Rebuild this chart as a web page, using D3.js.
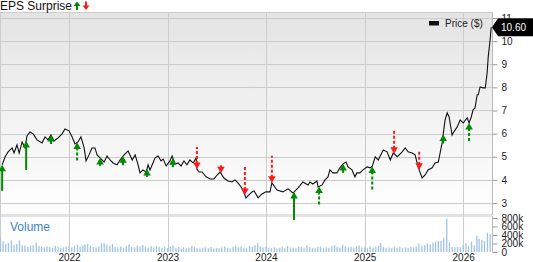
<!DOCTYPE html>
<html lang="en">
<head>
<meta charset="UTF-8">
<title>EPS Surprise</title>
<script src="https://d3js.org/d3.v7.min.js"></script>
<style>
    body { margin: 0; background: #fff; }
    svg { display: block; font-family: "Liberation Sans", Arial, sans-serif; }
</style>
</head>
<body>
<div id="chart"></div>
<script>
// price trace
const priceDates = [
    '2021-04-28','2021-05-09','2021-05-20','2021-06-04','2021-06-11','2021-06-22','2021-06-30','2021-07-11','2021-07-22','2021-07-29',
    '2021-08-09','2021-08-21','2021-09-04','2021-09-23','2021-10-04','2021-10-15','2021-10-26','2021-11-06','2021-11-21','2021-12-06',
    '2021-12-17','2022-01-01','2022-01-12','2022-01-23','2022-02-03','2022-02-14','2022-02-26','2022-03-05','2022-03-16','2022-03-27',
    '2022-04-07','2022-04-15','2022-04-26','2022-05-11','2022-05-22','2022-06-02','2022-06-13','2022-06-28','2022-07-09','2022-07-24',
    '2022-08-08','2022-08-23','2022-09-03','2022-09-14','2022-09-21','2022-10-02','2022-10-14','2022-10-21','2022-10-28','2022-11-08',
    '2022-11-16','2022-11-27','2022-12-08','2022-12-16','2022-12-27','2023-01-10','2023-01-18','2023-01-29','2023-02-09','2023-02-20',
    '2023-03-03','2023-03-14','2023-03-25','2023-04-06','2023-04-17','2023-04-20','2023-04-28','2023-05-09','2023-05-24','2023-06-08',
    '2023-06-22','2023-07-04','2023-07-15','2023-07-29','2023-08-13','2023-08-28','2023-09-08','2023-09-19','2023-10-01','2023-10-12',
    '2023-10-19','2023-10-30','2023-11-10','2023-11-18','2023-12-03','2023-12-17','2024-01-01','2024-01-16','2024-01-23','2024-02-11',
    '2024-03-04','2024-03-23','2024-04-10','2024-04-29','2024-05-17','2024-06-05','2024-06-12','2024-06-23','2024-07-08','2024-07-12',
    '2024-07-27','2024-08-07','2024-08-18','2024-08-25','2024-09-05','2024-09-20','2024-10-01','2024-10-13','2024-10-24','2024-10-31',
    '2024-11-15','2024-11-26','2024-12-03','2024-12-14','2024-12-26','2025-01-10','2025-01-21','2025-01-29','2025-02-09','2025-02-20',
    '2025-03-11','2025-03-25','2025-04-06','2025-04-17','2025-05-02','2025-05-20','2025-05-31','2025-06-11','2025-06-26','2025-07-07',
    '2025-07-18','2025-08-02','2025-08-13','2025-08-24','2025-09-08','2025-09-19','2025-10-01','2025-10-15','2025-10-26','2025-11-03',
    '2025-11-10','2025-11-21','2025-11-25','2025-12-10','2025-12-21','2026-01-01','2026-01-16','2026-01-23','2026-01-31','2026-02-07',
    '2026-02-14','2026-02-22','2026-02-26','2026-03-05','2026-03-16','2026-03-24','2026-03-31','2026-04-04','2026-04-11','2026-04-15'
];
const prices = [
    4.65, 5.00, 5.21, 5.38, 5.16, 5.51, 5.16, 5.64, 5.38, 5.90,
    6.07, 5.99, 5.73, 5.60, 5.86, 5.73, 5.94, 5.68, 5.81, 5.99,
    6.20, 6.12, 5.86, 5.55, 5.64, 5.86, 5.38, 4.82, 5.08, 5.38,
    5.38, 5.08, 4.95, 4.77, 5.03, 4.86, 4.73, 4.65, 4.86, 5.08,
    5.25, 4.86, 5.08, 4.65, 4.30, 4.43, 4.34, 4.65, 4.43, 4.73,
    4.95, 5.03, 4.82, 4.90, 4.60, 4.82, 5.03, 4.69, 4.73, 4.60,
    4.82, 4.65, 4.86, 4.73, 4.95, 4.47, 4.34, 4.34, 4.13, 4.04,
    4.04, 4.21, 4.34, 4.08, 3.95, 3.91, 4.00, 3.87, 3.69, 3.43,
    3.22, 3.35, 3.48, 3.52, 3.22, 3.39, 3.48, 3.48, 3.87, 3.56,
    3.48, 3.61, 3.43, 3.65, 3.91, 3.78, 3.91, 3.82, 3.95, 3.69,
    3.78, 4.00, 4.13, 4.43, 4.30, 4.30, 4.52, 4.69, 4.77, 4.56,
    4.43, 4.13, 4.30, 4.30, 4.43, 4.56, 4.52, 4.58, 5.00, 4.86,
    5.29, 5.21, 4.86, 5.16, 5.00, 5.21, 5.38, 5.21, 5.16, 5.08,
    4.56, 4.08, 4.21, 4.43, 4.52, 4.73, 4.77, 5.60, 6.59, 6.90,
    6.72, 5.94, 6.03, 6.29, 6.59, 6.46, 6.68, 6.46, 6.72, 7.03,
    7.11, 7.68, 7.68, 8.02, 7.98, 7.98, 8.63, 9.32, 10.06, 10.60
];

// earnings reports: surprise in %, solid or dashed shaft
const epsDates = [
    '2021-04-28','2021-07-26','2021-10-26','2022-01-31','2022-04-26','2022-07-20','2022-10-17','2023-01-21','2023-04-20','2023-07-18',
    '2023-10-15','2024-01-23','2024-04-14','2024-07-16','2024-10-13','2025-01-29','2025-04-20','2025-07-22','2025-10-19','2026-01-23'
];
const epsSurprise = [90, 105, 5, 55, 5, 5, 5, 5, -70, -3, -100, -95, 100, 60, 5, 80, -80, -55, 5, 50];
const epsSolid = [1, 1, 1, 0, 0, 1, 0, 1, 0, 0, 0, 0, 1, 0, 1, 0, 0, 0, 1, 0];

// volume in thousands, three bars a month (1st, 11th, 21st) from 2021-04-21
const volumeK = [
    330, 250, 190, 210, 275, 160, 190, 270, 165, 150, 120, 150, 160, 220, 140, 125, 110, 135, 115, 100, 140, 120, 100, 110, 130,
    140, 110, 150, 170, 130, 160, 180, 190, 150, 120, 110, 130, 210, 200, 170, 150, 190, 120, 110, 130, 100, 140, 180, 120, 110, 150, 130, 160, 120, 100, 140, 110, 130, 120, 100, 115,
    90, 130, 150, 100, 120, 80, 110, 90, 100, 140, 120, 90, 80, 100, 110, 90, 120, 80, 100, 90, 110, 130, 100, 90, 120, 150, 110, 130, 100, 90, 140, 120, 160, 210, 130, 110,
    120, 100, 90, 110, 80, 100, 120, 90, 140, 110, 100, 90, 130, 120, 100, 150, 110, 90, 100, 120, 130, 90, 110, 100, 140, 160, 120, 100, 170, 130, 110, 120, 100, 130, 150, 110,
    110, 90, 130, 100, 120, 140, 210, 120, 100, 110, 90, 130, 100, 120, 90, 110, 100, 120, 110, 130, 190, 140, 160, 200, 180, 220, 240, 260, 260, 330, 780, 230, 120, 110, 120, 110,
    170, 210, 150, 240, 150, 380, 310, 290, 260, 450, 420
];

const priceTicks = [3, 4, 5, 6, 7, 8, 9, 10, 11];
const volumeTicks = [0, 200000, 400000, 600000, 800000];
const yearTicks = ['2022-01-01', '2023-01-01', '2024-01-01', '2025-01-01', '2026-01-01'];

const parse = d3.timeParse('%Y-%m-%d');

const width = 533, height = 262;
const plotLeft = 0, plotRight = 492;
const priceTop = 12, priceBottom = 215, volTop = 216, volBottom = 252;

const x = d3.scaleTime()
    .domain([parse('2021-04-20'), parse('2026-04-18')])
    .range([plotLeft, plotRight]);
const y = d3.scaleLinear().domain([2.48, 11.26]).range([priceBottom, priceTop]);
const yVol = d3.scaleLinear().domain([0, 800000]).range([volBottom, 218]);
const shaft = d3.scaleLinear().domain([0, 100]).range([8, 28]);

const series = priceDates.map((d, i) => ({date: parse(d), price: prices[i]}));

const volumeDates = [];
for (let m = parse('2021-04-01'); volumeDates.length < volumeK.length; m = d3.timeMonth.offset(m, 1)) {
    [1, 11, 21].forEach(day => {
        const d = new Date(m.getFullYear(), m.getMonth(), day);
        if (d >= parse('2021-04-21') && volumeDates.length < volumeK.length) volumeDates.push(d);
    });
}

const bisect = d3.bisector(d => d.date).left;
function priceAt(date) {
    const i = Math.max(1, Math.min(series.length - 1, bisect(series, date)));
    const a = series[i - 1], b = series[i];
    const t = (date - a.date) / (b.date - a.date);
    return a.price + (b.price - a.price) * Math.max(0, Math.min(1, t));
}

const svg = d3.select('#chart').append('svg')
    .attr('width', width)
    .attr('height', height);

const grad = svg.append('defs').append('linearGradient')
    .attr('id', 'bg')
    .attr('x1', 0).attr('y1', 0).attr('x2', 0).attr('y2', 1);
grad.append('stop').attr('offset', '0%').attr('stop-color', '#e4e4e4');
grad.append('stop').attr('offset', '100%').attr('stop-color', '#ffffff');

svg.append('rect')
    .attr('x', plotLeft).attr('y', priceTop)
    .attr('width', plotRight - plotLeft).attr('height', priceBottom - priceTop)
    .attr('fill', 'url(#bg)');

// grid
svg.append('g')
    .selectAll('line')
    .data(priceTicks)
    .enter().append('line')
    .attr('x1', plotLeft).attr('x2', plotRight)
    .attr('y1', d => Math.round(y(d)) + 0.5).attr('y2', d => Math.round(y(d)) + 0.5)
    .attr('stroke', '#cccccc');

svg.append('rect')
    .attr('x', plotLeft).attr('y', priceBottom - 1)
    .attr('width', plotRight - plotLeft).attr('height', 3)
    .attr('fill', '#e2e2e2');

svg.append('g')
    .selectAll('line')
    .data(yearTicks)
    .enter().append('line')
    .attr('x1', d => Math.round(x(parse(d))) + 0.5).attr('x2', d => Math.round(x(parse(d))) + 0.5)
    .attr('y1', priceTop).attr('y2', volBottom)
    .attr('stroke', '#cccccc');

svg.append('line')
    .attr('x1', plotLeft).attr('x2', plotRight)
    .attr('y1', priceTop + 0.5).attr('y2', priceTop + 0.5)
    .attr('stroke', '#cccccc');
svg.append('line')
    .attr('x1', plotLeft + 0.5).attr('x2', plotLeft + 0.5)
    .attr('y1', priceTop).attr('y2', volBottom)
    .attr('stroke', '#cccccc');

// volume bars
svg.append('g')
    .selectAll('rect')
    .data(volumeK)
    .enter().append('rect')
    .attr('x', (d, i) => x(volumeDates[i]) - 0.6)
    .attr('width', 1.3)
    .attr('y', d => yVol(d * 1000))
    .attr('height', d => volBottom - yVol(d * 1000))
    .attr('fill', '#9fc2e6');

svg.append('text')
    .attr('x', 10).attr('y', 231)
    .attr('font-size', 12)
    .attr('fill', '#3b86c6')
    .text('Volume');

// price line
svg.append('path')
    .datum(series)
    .attr('fill', 'none')
    .attr('stroke', '#111')
    .attr('stroke-width', 1.1)
    .attr('d', d3.line().x(d => x(d.date)).y(d => y(d.price)));

// EPS surprise arrows
const eps = svg.append('g')
    .selectAll('g')
    .data(epsDates.map((d, i) => ({date: parse(d), s: epsSurprise[i], solid: epsSolid[i]})))
    .enter().append('g')
    .attr('transform', d => `translate(${x(d.date)},${y(priceAt(d.date))})`);

eps.append('line')
    .attr('x1', 0).attr('x2', 0)
    .attr('y1', d => d.s >= 0 ? 5 : -5)
    .attr('y2', d => d.s >= 0 ? shaft(Math.abs(d.s)) : -shaft(Math.abs(d.s)))
    .attr('stroke', d => d.s >= 0 ? '#008a00' : '#ff1a1a')
    .attr('stroke-width', 2)
    .attr('stroke-dasharray', d => d.solid ? null : '3,2');

eps.append('path')
    .attr('d', d => d.s >= 0 ? 'M0,0L3.8,6.5L-3.8,6.5Z' : 'M0,0L3.8,-6.5L-3.8,-6.5Z')
    .attr('fill', d => d.s >= 0 ? '#008a00' : '#ff1a1a');

// axes
const yAxis = svg.append('g')
    .attr('transform', `translate(${plotRight + 0.5},0)`)
    .call(d3.axisRight(y).tickValues(priceTicks).tickSize(5).tickPadding(4));
const volAxis = svg.append('g')
    .attr('transform', `translate(${plotRight + 0.5},0)`)
    .call(d3.axisRight(yVol).tickValues(volumeTicks).tickSize(5).tickPadding(4)
        .tickFormat(d => d ? d / 1000 + 'k' : '0'));
const xAxis = svg.append('g')
    .attr('transform', `translate(0,${volBottom})`)
    .call(d3.axisBottom(x).tickValues(yearTicks.map(parse)).tickSize(0).tickPadding(1.5)
        .tickFormat(d3.timeFormat('%Y')));

[yAxis, volAxis, xAxis].forEach(g => {
    g.select('.domain').attr('stroke', '#bbbbbb');
    g.selectAll('.tick line').attr('stroke', '#999999');
    g.selectAll('text').attr('fill', '#222').attr('font-size', 10)
        .attr('font-family', '"Liberation Sans", Arial, sans-serif');
});
xAxis.select('.domain').remove();
yAxis.select('.domain').attr('d', `M0,${priceTop}V${priceBottom}`);
volAxis.select('.domain').attr('d', `M0,${volTop}V${volBottom}`);

// legend
svg.append('rect')
    .attr('x', 429).attr('y', 21).attr('width', 10).attr('height', 4.5)
    .attr('fill', '#111');
svg.append('text')
    .attr('x', 445).attr('y', 27)
    .attr('font-size', 10)
    .attr('fill', '#222')
    .text('Price ($)');

// last price badge
const last = series[series.length - 1];
const ly = y(last.price);
svg.append('path')
    .attr('d', `M${plotRight},${ly}L${plotRight + 6},${ly - 9}H${width}V${ly + 9}H${plotRight + 6}Z`)
    .attr('fill', '#000');
svg.append('text')
    .attr('x', plotRight + 9).attr('y', ly + 3.6)
    .attr('font-size', 10)
    .attr('fill', '#fff')
    .text(last.price.toFixed(2));

// title
svg.append('text')
    .attr('x', 0).attr('y', 10)
    .attr('font-size', 12)
    .attr('fill', '#111')
    .text('EPS Surprise');
svg.append('path')
    .attr('d', 'M77,1.5L80.5,6L78,6L78,10L76,10L76,6L73.5,6Z')
    .attr('fill', '#008a00');
svg.append('path')
    .attr('d', 'M86,10L89.5,5.5L87,5.5L87,1.5L85,1.5L85,5.5L82.5,5.5Z')
    .attr('fill', '#ff1a1a');
</script>
</body>
</html>
